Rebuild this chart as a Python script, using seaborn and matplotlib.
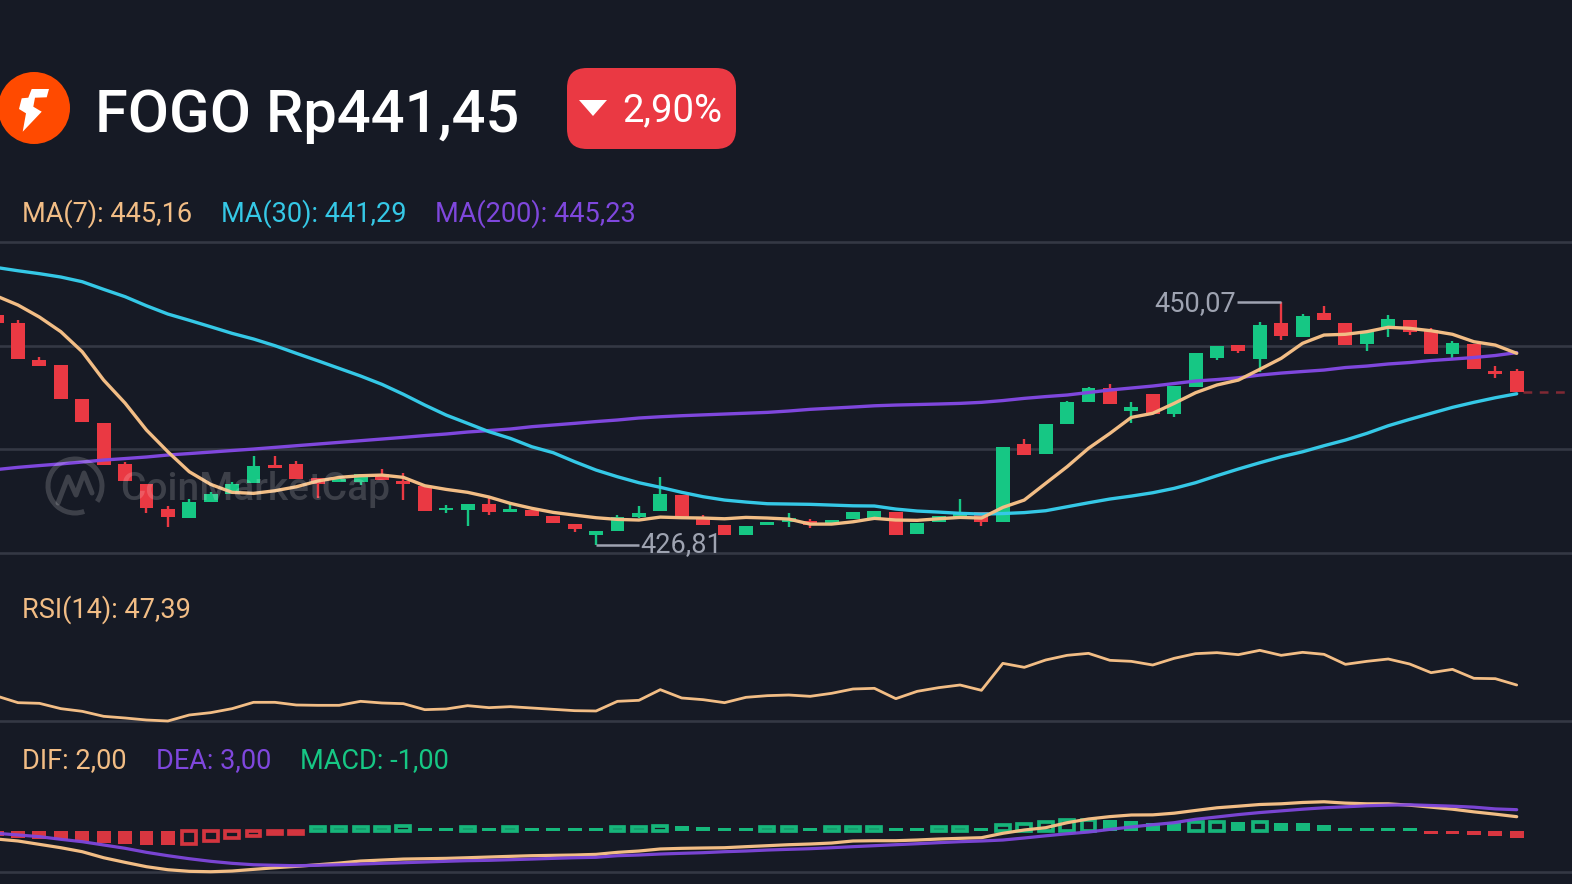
import numpy as np
import pandas as pd
import seaborn as sns
import matplotlib.pyplot as plt
from matplotlib.patches import Circle, FancyBboxPatch, Polygon, Arc

# Werte (Kerzen -1 bis 70)
opens = [448.82, 448.09, 444.52, 444.04, 440.79, 438.46, 434.54, 432.62, 430.23, 429.40, 430.96, 431.67,
         432.72, 434.47, 434.54, 433.23, 432.81, 432.87, 433.58, 432.97, 432.46, 430.16, 430.16, 430.71,
         430.00, 430.16, 429.59, 428.82, 427.77, 428.18, 429.52, 430.10, 431.60, 429.46, 428.73, 427.80,
         428.73, 429.04, 429.14, 428.73, 429.33, 429.37, 430.00, 427.90, 428.99, 429.52, 430.00, 429.04,
         436.48, 435.49, 438.36, 440.53, 441.81, 439.67, 441.24, 439.32, 441.96, 444.74, 445.95, 444.61,
         448.03, 446.75, 448.99, 448.03, 446.05, 447.65, 448.32, 447.39, 445.09, 446.02, 443.46, 443.47]
closes = [448.06, 444.58, 443.94, 440.81, 438.56, 434.47, 432.94, 430.33, 429.46, 430.96, 431.67, 432.62,
          434.37, 434.21, 433.13, 432.65, 433.10, 433.58, 433.03, 432.62, 430.04, 430.38, 430.71, 429.94,
          430.29, 429.59, 428.95, 428.32, 428.15, 429.52, 429.85, 431.67, 429.52, 428.70, 427.77, 428.66,
          429.04, 429.37, 428.73, 429.21, 429.97, 430.07, 427.80, 428.92, 429.59, 430.00, 429.04, 436.22,
          435.43, 438.39, 440.53, 441.81, 440.34, 440.05, 439.32, 442.03, 445.16, 445.86, 445.41, 447.87,
          446.84, 448.76, 448.32, 445.98, 447.23, 448.47, 447.23, 445.09, 446.17, 443.66, 443.18, 441.45]
highs = [448.82, 448.35, 444.78, 444.04, 440.79, 438.46, 434.73, 432.62, 430.55, 431.19, 431.91, 432.87,
         435.33, 435.33, 434.88, 433.23, 433.10, 433.58, 434.06, 433.68, 432.46, 430.64, 430.71, 431.44,
         430.86, 430.16, 429.59, 428.82, 428.15, 429.68, 430.57, 433.29, 431.60, 429.68, 428.73, 428.66,
         429.04, 429.91, 429.27, 429.21, 429.97, 430.07, 430.00, 428.92, 429.59, 431.19, 430.00, 436.22,
         436.93, 438.39, 440.62, 441.91, 442.19, 440.53, 441.24, 442.03, 445.16, 445.86, 445.95, 448.18,
         450.07, 448.95, 449.69, 448.03, 447.23, 448.80, 448.32, 447.55, 446.31, 446.02, 443.94, 443.69]
lows = [448.06, 444.58, 443.94, 440.81, 438.56, 434.47, 432.94, 429.85, 428.56, 429.40, 430.96, 431.67,
        432.72, 434.21, 433.13, 431.31, 432.81, 432.56, 433.03, 431.12, 430.04, 429.91, 428.66, 429.66,
        430.00, 429.59, 428.95, 428.06, 426.81, 428.18, 429.37, 430.10, 429.52, 428.70, 427.77, 427.80,
        428.73, 428.51, 428.44, 428.73, 429.33, 429.37, 427.80, 427.90, 428.99, 429.52, 428.66, 429.04,
        435.43, 435.49, 438.36, 440.53, 440.34, 438.46, 439.32, 439.09, 441.96, 444.52, 445.16, 443.34,
        446.40, 446.75, 448.32, 445.98, 445.41, 446.69, 446.88, 445.09, 444.74, 443.66, 442.82, 441.45]

ma7 = [450.64, 449.78, 448.63, 447.23, 445.31, 442.60, 440.40, 437.82, 435.74, 433.83, 432.62, 431.86,
       431.76, 432.01, 432.39, 432.94, 433.29, 433.45, 433.51, 433.29, 432.49, 432.14, 431.86, 431.41,
       430.80, 430.33, 429.94, 429.68, 429.43, 429.27, 429.21, 429.49, 429.43, 429.40, 429.33, 429.46,
       429.40, 429.30, 428.82, 428.82, 429.04, 429.37, 429.21, 429.18, 429.33, 429.46, 429.40, 430.42,
       431.12, 432.72, 434.31, 436.07, 437.50, 439.03, 439.42, 440.37, 441.39, 442.13, 442.60, 443.63,
       444.68, 446.12, 446.91, 446.98, 447.23, 447.65, 447.55, 447.32, 446.98, 446.27, 445.95, 445.16]
ma30 = [453.37, 453.06, 452.78, 452.46, 452.01, 451.28, 450.58, 449.71, 448.92, 448.32, 447.70, 447.07,
        446.53, 445.89, 445.16, 444.45, 443.72, 442.99, 442.19, 441.24, 440.21, 439.25, 438.46, 437.66,
        437.02, 436.22, 435.65, 434.79, 433.99, 433.35, 432.78, 432.34, 431.86, 431.44, 431.12, 430.93,
        430.77, 430.74, 430.71, 430.64, 430.57, 430.55, 430.26, 430.07, 429.97, 429.85, 429.78, 429.83,
        429.92, 430.10, 430.48, 430.86, 431.22, 431.50, 431.82, 432.24, 432.78, 433.45, 434.09, 434.69,
        435.26, 435.74, 436.32, 436.86, 437.50, 438.23, 438.84, 439.42, 439.99, 440.47, 440.91, 441.29]
ma200 = [434.04, 434.25, 434.42, 434.58, 434.76, 434.95, 435.09, 435.24, 435.43, 435.57, 435.71, 435.86,
         436.00, 436.16, 436.32, 436.48, 436.64, 436.80, 436.96, 437.12, 437.29, 437.44, 437.63, 437.77,
         437.92, 438.14, 438.30, 438.46, 438.63, 438.78, 438.97, 439.09, 439.19, 439.27, 439.35, 439.43,
         439.51, 439.64, 439.80, 439.91, 440.02, 440.14, 440.21, 440.26, 440.31, 440.37, 440.47, 440.64,
         440.85, 441.02, 441.17, 441.41, 441.65, 441.84, 442.03, 442.27, 442.51, 442.65, 442.82, 443.08,
         443.27, 443.42, 443.56, 443.80, 443.94, 444.14, 444.28, 444.47, 444.61, 444.76, 444.95, 445.23]

rsi = [40.06, 35.61, 35.17, 31.62, 29.84, 26.51, 25.39, 24.06, 23.39, 27.39, 28.95, 31.62, 35.84, 35.84,
       34.06, 33.84, 33.84, 36.51, 35.39, 34.95, 30.95, 31.39, 33.61, 32.28, 32.95, 32.06, 31.17, 30.28,
       30.06, 36.51, 37.17, 44.28, 38.73, 37.61, 35.61, 39.17, 40.28, 40.72, 39.84, 41.84, 44.72, 45.17,
       38.28, 43.17, 45.61, 47.39, 43.84, 61.83, 59.17, 64.06, 67.17, 68.50, 63.84, 63.17, 60.72, 65.17,
       68.28, 68.95, 67.61, 70.50, 67.17, 69.17, 67.83, 61.17, 63.17, 64.72, 61.39, 55.61, 57.83, 51.84,
       51.61, 47.39]

dif = [-1.19, -1.47, -1.95, -2.43, -3.00, -3.86, -4.52, -5.14, -5.57, -5.80, -5.86, -5.76, -5.52, -5.29,
       -5.09, -4.86, -4.62, -4.33, -4.19, -4.05, -4.00, -3.95, -3.86, -3.76, -3.66, -3.57, -3.52, -3.47,
       -3.38, -3.09, -2.90, -2.61, -2.52, -2.47, -2.43, -2.28, -2.14, -2.00, -1.90, -1.76, -1.47, -1.43,
       -1.43, -1.33, -1.19, -1.09, -1.00, -0.37, 0.10, 0.43, 1.14, 1.67, 2.01, 2.24, 2.26, 2.50, 2.89,
       3.27, 3.50, 3.74, 3.84, 4.03, 4.13, 3.94, 3.84, 3.84, 3.64, 3.36, 3.07, 2.69, 2.36, 2.00]
dea = [-0.37, -0.61, -0.85, -1.23, -1.57, -2.04, -2.51, -3.09, -3.57, -4.00, -4.37, -4.66, -4.86, -4.94,
       -5.00, -4.94, -4.86, -4.76, -4.66, -4.57, -4.47, -4.37, -4.28, -4.23, -4.14, -4.05, -3.95, -3.86,
       -3.80, -3.57, -3.47, -3.33, -3.23, -3.14, -3.00, -2.90, -2.76, -2.66, -2.57, -2.43, -2.28, -2.14,
       -2.00, -1.86, -1.71, -1.57, -1.47, -1.33, -1.04, -0.73, -0.44, -0.19, 0.19, 0.53, 0.86, 1.14, 1.63,
       1.96, 2.30, 2.59, 2.83, 3.07, 3.27, 3.41, 3.56, 3.64, 3.70, 3.60, 3.50, 3.36, 3.11, 3.00]
macd = [-0.76, -1.00, -1.19, -1.33, -1.47, -1.71, -1.90, -2.04, -2.05, -1.83, -1.50, -1.11, -0.69, -0.44,
        -0.42, 0.46, 0.47, 0.48, 0.50, 0.60, 0.43, 0.42, 0.46, 0.43, 0.46, 0.43, 0.42, 0.41, 0.40, 0.46,
        0.50, 0.70, 0.67, 0.57, 0.43, 0.42, 0.46, 0.50, 0.43, 0.46, 0.56, 0.57, 0.43, 0.42, 0.46, 0.47,
        0.43, 0.84, 0.99, 1.20, 1.46, 1.55, 1.53, 1.34, 1.12, 1.10, 1.21, 1.30, 1.20, 1.25, 1.06, 1.03,
        0.81, 0.43, 0.42, 0.41, 0.40, -0.43, -0.44, -0.57, -0.76, -1.00]

candle_idx = np.arange(-1, 71)
grid_prices = [426.02, 435.97, 445.90, 455.84]
high_label, low_label = "450,07", "426,81"

BG = "#161a25"
GRID = "#343844"
RED = "#ea3943"
GREEN = "#16c784"
PEACH = "#f2bd85"
CYAN = "#35c8e6"
PURPLE = "#7f47dd"
GREY = "#9ea3b1"

sns.set_theme(style="dark", rc={"figure.facecolor": BG, "axes.facecolor": BG})
plt.rcParams["font.family"] = ["Roboto", "DejaVu Sans"]

W, H = 1572, 884
fig = plt.figure(figsize=(W / 100, H / 100), dpi=100)


def panel(top, bottom, ylim):
    # Achse ueber Pixelzeilen legen, x-Skala ist fuer alle gleich
    ax = fig.add_axes([0, 1 - bottom / H, 1, (bottom - top) / H])
    ax.set_xlim(-18 / 21.41, (W - 18) / 21.41)
    ax.set_ylim(*ylim)
    ax.set_xticks([])
    ax.set_yticks([])
    ax.patch.set_alpha(0)
    for s in ax.spines.values():
        s.set_visible(False)
    return ax


df = pd.DataFrame({"idx": candle_idx, "ma7": ma7, "ma30": ma30, "ma200": ma200,
                   "rsi": rsi, "dif": dif, "dea": dea})

# Kurs-Panel
ax = panel(234.8, 558.8, (425.5, 456.5))
ax.hlines(grid_prices, -2, 80, color=GRID, lw=1.9, zorder=1)
op, cl = np.array(opens), np.array(closes)
farben = [GREEN if c >= o else RED for o, c in zip(op, cl)]
ax.vlines(candle_idx, lows, highs, color=farben, lw=1.7, zorder=2)
ax.bar(candle_idx, np.abs(cl - op), bottom=np.minimum(op, cl), width=0.65, color=farben,
       edgecolor=farben, linewidth=0, zorder=2)
ax.hlines(closes[-1], 70.3, 80, color=RED, lw=1.8, alpha=0.5, linestyles=(0, (3.5, 3)), zorder=2)
for spalte, farbe in [("ma200", PURPLE), ("ma30", CYAN), ("ma7", PEACH)]:
    sns.lineplot(data=df, x="idx", y=spalte, ax=ax, color=farbe, lw=2.4, errorbar=None, zorder=3)
ax.set_xlabel("")
ax.set_ylabel("")

# Hoch / Tief Markierung
ax.hlines(max(highs), 56.95, 59, color=GREY, lw=1.8, zorder=2)
ax.text(56.9, max(highs) - 0.12, high_label, ha="right", va="center", color=GREY, fontsize=19.5)
ax.hlines(min(lows), 27, 29.0, color=GREY, lw=1.8, zorder=2)
ax.text(29.05, min(lows) + 0.05, low_label, ha="left", va="center", color=GREY, fontsize=19.5)

# RSI-Panel
ax_rsi = panel(640, 730, (17.39, 77.39))
ax_rsi.hlines(23.39, -2, 80, color=GRID, lw=1.9, zorder=1)
sns.lineplot(data=df, x="idx", y="rsi", ax=ax_rsi, color=PEACH, lw=2.0, errorbar=None, zorder=3)
ax_rsi.set_xlabel("")
ax_rsi.set_ylabel("")

# MACD-Panel
ax_macd = panel(790, 884, (-7.61, 5.81))
ax_macd.hlines(-5.94, -2, 80, color=GRID, lw=1.9, zorder=1)
for i, (k, wert) in enumerate(zip(candle_idx, macd)):
    farbe = GREEN if wert >= 0 else RED
    hohl = i > 0 and wert >= macd[i - 1]
    if hohl:
        ax_macd.bar(k, wert, width=0.65, facecolor="none", edgecolor=farbe, lw=2.65, alpha=0.9, zorder=2)
    else:
        ax_macd.bar(k, wert, width=0.65, color=farbe, lw=0, alpha=0.92, zorder=2)
sns.lineplot(data=df, x="idx", y="dif", ax=ax_macd, color=PEACH, lw=2.3, errorbar=None, zorder=3)
sns.lineplot(data=df, x="idx", y="dea", ax=ax_macd, color=PURPLE, lw=2.3, errorbar=None, zorder=3, alpha=0.95)
ax_macd.set_xlabel("")
ax_macd.set_ylabel("")

# Kopfzeile und Texte in Pixelkoordinaten
top = fig.add_axes([0, 0, 1, 1], zorder=5)
top.set_xlim(0, W)
top.set_ylim(H, 0)
top.axis("off")
top.patch.set_alpha(0)

top.add_patch(Circle((34, 108), 36, color="#ff4a00", lw=0))
top.add_patch(Polygon([(31.7, 89), (49, 89), (46.7, 97.3), (35, 97.7), (33.3, 106.7), (41.7, 111.7),
                       (22.7, 131.7), (26, 113.3), (19, 109), (21.7, 98.3), (28.3, 97.7)],
                      color="white", lw=0))
top.text(95, 115, "FOGO Rp441,45", color="white", fontsize=42.9, fontweight="medium", va="center", ha="left")
top.add_patch(FancyBboxPatch((587, 88), 129, 41, boxstyle="round,pad=20,rounding_size=20", color=RED, lw=0))
top.add_patch(Polygon([(579, 100), (607, 100), (593, 116)], color="white", lw=0))
top.text(622, 111, "2,90%", color="white", fontsize=27.5, va="center", ha="left")

fs = 19.5
top.text(22, 214, "MA(7): 445,16", color=PEACH, fontsize=fs, va="center")
top.text(221, 214, "MA(30): 441,29", color=CYAN, fontsize=fs, va="center")
top.text(435, 214, "MA(200): 445,23", color=PURPLE, fontsize=fs, va="center")
top.text(22, 609.7, "RSI(14): 47,39", color=PEACH, fontsize=fs, va="center")
top.text(22, 760.7, "DIF: 2,00", color=PEACH, fontsize=fs, va="center")
top.text(156, 760.7, "DEA: 3,00", color=PURPLE, fontsize=fs, va="center")
top.text(300, 760.7, "MACD: -1,00", color=GREEN, fontsize=fs, va="center")

# Wasserzeichen
wm = dict(color="#ffffff", alpha=0.17)
top.text(120, 490, "CoinMarketCap", fontsize=28, fontweight="medium", va="center", ha="left", **wm)
top.add_patch(Arc((75, 486), 54, 54, theta1=70, theta2=395, lw=3.6, fill=False, **wm))
top.plot([58, 68, 76, 84, 92], [503, 477, 495, 473, 493], lw=3.6, solid_joinstyle="round", **wm)

fig.savefig("out.png", dpi=100, facecolor=BG)
